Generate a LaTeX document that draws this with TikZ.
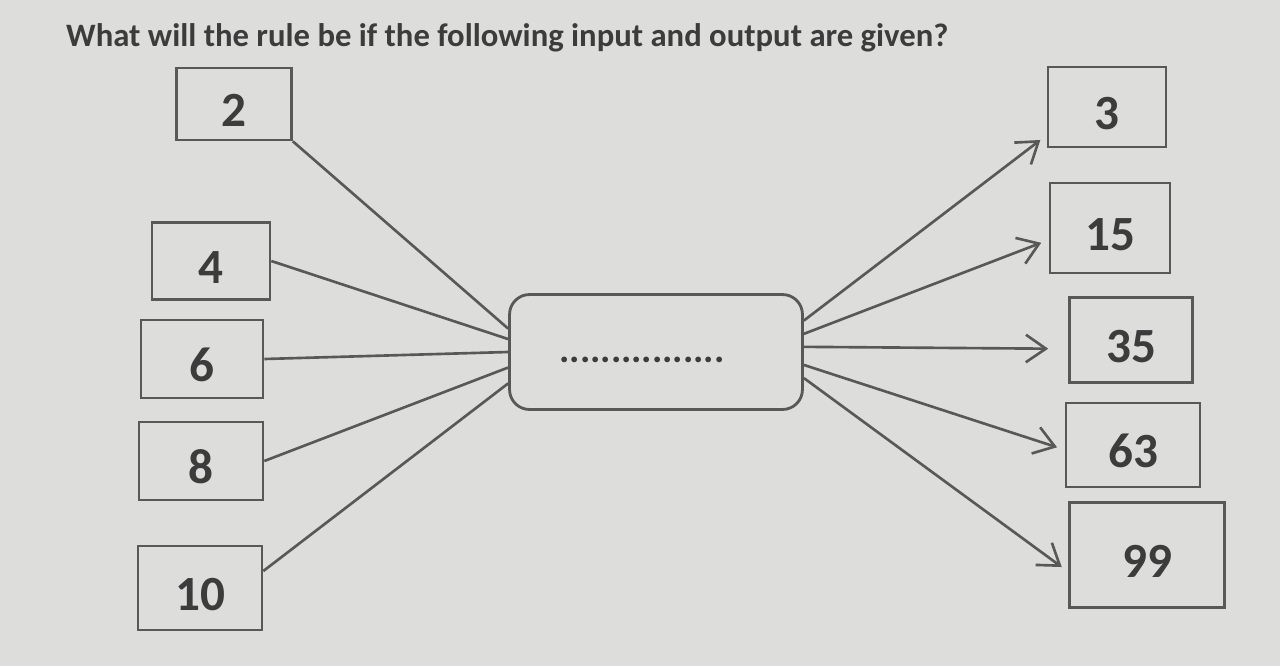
\documentclass[tikz,border=0pt]{standalone}
\usepackage{fontspec}
\setmainfont{Carlito}
\usetikzlibrary{arrows.meta}
\definecolor{custom-paper}{RGB}{221, 221, 219}
\definecolor{custom-line}{RGB}{88, 88, 88}
\definecolor{custom-ink}{RGB}{60, 60, 60}

\tikzset{
  numbox/.style={draw=custom-line, line width=1.5pt, text=custom-ink, text height=26pt, text depth=0pt, font=\fontsize{28}{30}\selectfont\bfseries},
  rulebox/.style={draw=custom-line, line width=1.6pt, rounded corners=0.4cm, text=custom-ink, font=\fontsize{22}{24}\selectfont\bfseries},
  feed/.style={custom-line, line width=1.5pt},
  result/.style={custom-line, line width=1.5pt, -{Straight Barb[length=0.4cm, width=0.55cm]}, shorten >=0.16cm}
}

\begin{document}
\begin{tikzpicture}[x=0.02cm, y=-0.02cm]
\fill[custom-paper] (0,0) rectangle (1280,666);
\useasboundingbox (0,0) rectangle (1280,666);

\node[anchor=base west, text=custom-ink, font=\fontsize{18.6}{20}\selectfont\bfseries] (title) at (60,46) {What will the rule be if the following input and output are given?};

% inputs
\node[numbox, minimum width=2.3cm, minimum height=1.44cm] (in2) at (234,104) {2};
\node[numbox, minimum width=2.36cm, minimum height=1.54cm] (in4) at (211,261) {4};
\node[numbox, minimum width=2.44cm, minimum height=1.56cm] (in6) at (202,359) {6};
\node[numbox, minimum width=2.48cm, minimum height=1.56cm] (in8) at (201,461) {8};
\node[numbox, minimum width=2.48cm, minimum height=1.68cm] (in10) at (200,588) {10};

% the rule
\node[rulebox, minimum width=5.86cm, minimum height=2.3cm] (rule) at (656,352) {\raisebox{-0.2cm}[0pt][0pt]{\makebox[0pt]{................\hspace*{0.56cm}}}};

% outputs
\node[numbox, minimum width=2.36cm, minimum height=1.6cm] (out3) at (1107,107) {3};
\node[numbox, minimum width=2.4cm, minimum height=1.8cm] (out15) at (1110,228) {15};
\node[numbox, minimum width=2.46cm, minimum height=1.7cm] (out35) at (1131,340) {35};
\node[numbox, minimum width=2.68cm, minimum height=1.68cm] (out63) at (1133,445) {63};
\node[numbox, minimum width=3.1cm, minimum height=2.1cm] (out99) at (1147,555) {99};

\draw[feed] (in2.south east) -- (rule.171);
\draw[feed] (in4.east) -- (rule.175);
\draw[feed] (in6.east) -- (rule.180);
\draw[feed] (in8.east) -- (rule.186);
\draw[feed] (in10.15) -- (rule.192);

\draw[result] (rule.12) -- (out3.205);
\draw[result] (rule.7) -- (out15.191);
\draw[result, shorten >=0.4cm] (rule.2) -- (out35.188);
\draw[result] (rule.355) -- (out63.184);
\draw[result] (rule.350) -- (out99.192);
\end{tikzpicture}
\end{document}
